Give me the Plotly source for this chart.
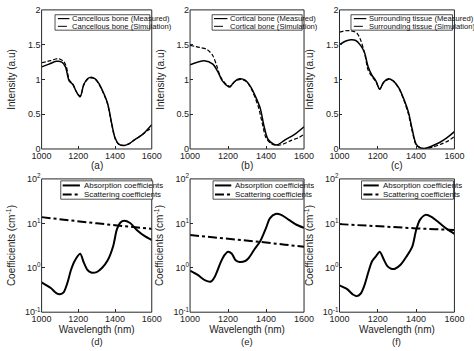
import plotly.graph_objects as go

W, H = 474, 351

# ---------------- data ----------------
a_meas_x = [1000, 1040, 1080, 1110, 1130, 1150, 1170, 1190, 1210, 1230, 1250, 1270, 1290, 1310, 1340, 1360, 1380, 1400, 1420, 1450, 1480, 1500, 1550, 1600]
a_meas_y = [1.18, 1.22, 1.26, 1.25, 1.18, 0.98, 0.93, 0.82, 0.75, 0.93, 1.01, 1.03, 1.01, 0.95, 0.79, 0.65, 0.39, 0.16, 0.07, 0.05, 0.08, 0.12, 0.21, 0.35]
a_sim_x = [1000, 1050, 1090, 1120, 1135, 1150, 1170, 1190, 1210, 1230, 1250, 1270, 1290, 1310, 1340, 1360, 1380, 1400, 1420, 1450, 1480, 1500, 1550, 1580, 1600]
a_sim_y = [1.24, 1.27, 1.30, 1.26, 1.18, 1.0, 0.93, 0.82, 0.76, 0.92, 1.0, 1.02, 1.01, 0.94, 0.78, 0.64, 0.38, 0.15, 0.07, 0.05, 0.08, 0.12, 0.21, 0.27, 0.30]

b_meas_x = [1000, 1075, 1120, 1150, 1170, 1200, 1210, 1230, 1260, 1290, 1320, 1350, 1370, 1390, 1410, 1440, 1460, 1500, 1550, 1600]
b_meas_y = [1.21, 1.27, 1.22, 1.09, 0.98, 0.90, 0.89, 0.96, 1.01, 0.99, 0.89, 0.72, 0.58, 0.32, 0.14, 0.07, 0.06, 0.13, 0.21, 0.32]
b_sim_x = [1000, 1050, 1090, 1120, 1140, 1160, 1190, 1210, 1240, 1270, 1300, 1330, 1360, 1380, 1400, 1430, 1460, 1490, 1530, 1570, 1600]
b_sim_y = [1.49, 1.46, 1.43, 1.34, 1.20, 1.04, 0.93, 0.90, 0.98, 1.00, 0.96, 0.82, 0.60, 0.37, 0.16, 0.07, 0.05, 0.07, 0.12, 0.16, 0.21]

c_meas_x = [1000, 1030, 1060, 1085, 1110, 1130, 1150, 1170, 1190, 1210, 1230, 1255, 1280, 1310, 1340, 1360, 1380, 1400, 1420, 1450, 1480, 1520, 1560, 1600]
c_meas_y = [1.50, 1.55, 1.57, 1.56, 1.49, 1.39, 1.18, 1.06, 0.98, 0.86, 0.96, 1.01, 0.98, 0.88, 0.69, 0.53, 0.28, 0.07, 0.02, 0.01, 0.04, 0.09, 0.16, 0.25]
c_sim_x = [1000, 1030, 1060, 1090, 1110, 1130, 1150, 1170, 1190, 1210, 1230, 1255, 1280, 1310, 1340, 1360, 1380, 1400, 1430, 1460, 1490, 1530, 1570, 1600]
c_sim_y = [1.68, 1.70, 1.70, 1.67, 1.57, 1.39, 1.13, 1.04, 0.97, 0.86, 0.95, 1.00, 0.98, 0.87, 0.67, 0.50, 0.25, 0.06, 0.01, 0.01, 0.03, 0.07, 0.12, 0.18]

d_abs_x = [1000, 1050, 1080, 1100, 1120, 1140, 1160, 1180, 1210, 1230, 1250, 1270, 1300, 1330, 1360, 1390, 1410, 1430, 1450, 1480, 1520, 1560, 1600]
d_abs_y = [0.47, 0.35, 0.27, 0.255, 0.28, 0.45, 0.89, 1.42, 2.06, 1.3, 0.89, 0.78, 0.80, 1.0, 1.47, 3.1, 7.3, 10.5, 11.4, 10.3, 7.0, 5.2, 4.2]
d_sca_x = [1000, 1100, 1200, 1300, 1400, 1500, 1600]
d_sca_y = [13.8, 12.3, 11.1, 10.0, 9.1, 8.3, 7.5]

e_abs_x = [1000, 1040, 1080, 1110, 1130, 1160, 1180, 1200, 1220, 1240, 1260, 1290, 1310, 1340, 1370, 1400, 1420, 1450, 1480, 1520, 1560, 1600]
e_abs_y = [0.86, 0.69, 0.52, 0.49, 0.63, 1.29, 1.9, 2.3, 2.06, 1.47, 1.35, 1.42, 1.68, 2.65, 4.0, 7.9, 13.0, 16.3, 15.5, 12.0, 9.3, 7.9]
e_sca_x = [1000, 1100, 1200, 1300, 1400, 1500, 1600]
e_sca_y = [5.46, 5.0, 4.55, 4.1, 3.7, 3.3, 2.98]

f_abs_x = [1000, 1040, 1070, 1090, 1110, 1130, 1150, 1170, 1190, 1210, 1230, 1250, 1270, 1290, 1320, 1350, 1380, 1400, 1420, 1450, 1480, 1520, 1560, 1600]
f_abs_y = [0.40, 0.33, 0.25, 0.23, 0.26, 0.40, 0.78, 1.4, 1.8, 2.3, 1.57, 1.09, 0.95, 0.95, 1.18, 1.8, 3.0, 7.0, 12.0, 15.5, 14.0, 10.3, 7.5, 5.8]
f_sca_x = [1000, 1100, 1200, 1300, 1400, 1500, 1600]
f_sca_y = [9.6, 9.0, 8.5, 8.1, 7.7, 7.4, 7.1]

top_names = ["Cancellous bone", "Cortical bone", "Surrounding tissue"]
captions = ["(a)", "(b)", "(c)", "(d)", "(e)", "(f)"]
x_ticks = [1000, 1200, 1400, 1600]
top_yticks = [0, 0.5, 1, 1.5, 2]
log_tickvals = [0.1, 1, 10, 100]
log_ticktext = ["10<sup>-1</sup>", "10<sup>0</sup>", "10<sup>1</sup>", "10<sup>2</sup>"]

# ---------------- layout geometry (pixels) ----------------
cols_px = [(33, 148), (188, 307), (344, 464)]
top_px = (3, 147)
bot_px = (178, 316)

def px(x):
    return x / W

def py(y):
    return 1 - y / H

FONT = "Arial, Liberation Sans, sans-serif"
AX = "#262626"

fig = go.Figure()

top_data = [(a_meas_x, a_meas_y, a_sim_x, a_sim_y),
            (b_meas_x, b_meas_y, b_sim_x, b_sim_y),
            (c_meas_x, c_meas_y, c_sim_x, c_sim_y)]
bot_data = [(d_abs_x, d_abs_y, d_sca_x, d_sca_y),
            (e_abs_x, e_abs_y, e_sca_x, e_sca_y),
            (f_abs_x, f_abs_y, f_sca_x, f_sca_y)]

axis_common = dict(showgrid=False, zeroline=False, showline=False,
                   ticks="inside", ticklen=3, tickcolor=AX,
                   tickfont=dict(size=9, color="#222", family=FONT))

shapes = []
annotations = []

layout = {}
for i in range(3):
    n = i + 1
    sfx = "" if n == 1 else str(n)
    layout["xaxis" + sfx] = dict(axis_common, domain=[px(cols_px[i][0]), px(cols_px[i][1])], range=[1000, 1600],
                                 tickvals=x_ticks, anchor="y" + sfx)
    layout["yaxis" + sfx] = dict(axis_common, domain=[py(top_px[1]), py(top_px[0])], range=[0, 2],
                                 tickvals=top_yticks, anchor="x" + sfx,
                                 title=dict(text="Intensity (a.u)", font=dict(size=10, family=FONT, color="#222"), standoff=10))
    mx, my, sx, sy = top_data[i]
    fig.add_trace(go.Scatter(x=mx, y=my, mode="lines", line=dict(color="black", width=1.5, shape="spline", smoothing=0.8),
                             xaxis="x" + sfx, yaxis="y" + sfx, showlegend=False))
    fig.add_trace(go.Scatter(x=sx, y=sy, mode="lines", line=dict(color="black", width=1.2, dash="4px,2px", shape="spline", smoothing=0.8),
                             xaxis="x" + sfx, yaxis="y" + sfx, showlegend=False))
    shapes.append(dict(type="rect", xref="x" + sfx + " domain", yref="y" + sfx + " domain", x0=0, x1=1, y0=0, y1=1,
                       line=dict(color=AX, width=1), fillcolor="rgba(0,0,0,0)", layer="above"))

for i in range(3):
    n = i + 4
    sfx = str(n)
    layout["xaxis" + sfx] = dict(axis_common, domain=[px(cols_px[i][0]), px(cols_px[i][1])], range=[1000, 1600],
                                 tickvals=x_ticks, anchor="y" + sfx,
                                 title=dict(text="Wavelength (nm)", font=dict(size=10, family=FONT, color="#222"), standoff=0))
    layout["yaxis" + sfx] = dict(axis_common, domain=[py(bot_px[1]), py(bot_px[0])], type="log", range=[-1, 2],
                                 tickvals=log_tickvals, ticktext=log_ticktext, anchor="x" + sfx,
                                 title=dict(text="Coefficients (cm<sup>-1</sup>)", font=dict(size=10, family=FONT, color="#222"), standoff=7))
    ax_, ay_, sx, sy = bot_data[i]
    fig.add_trace(go.Scatter(x=ax_, y=ay_, mode="lines", line=dict(color="black", width=2, shape="spline", smoothing=0.8),
                             xaxis="x" + sfx, yaxis="y" + sfx, showlegend=False))
    fig.add_trace(go.Scatter(x=sx, y=sy, mode="lines", line=dict(color="black", width=2, dash="dashdot"),
                             xaxis="x" + sfx, yaxis="y" + sfx, showlegend=False))
    shapes.append(dict(type="rect", xref="x" + sfx + " domain", yref="y" + sfx + " domain", x0=0, x1=1, y0=0, y1=1,
                       line=dict(color=AX, width=1), fillcolor="rgba(0,0,0,0)", layer="above"))


def legend_box(x0, x1, y0, y1, line_x0, line_x1, text_x, rows, fsize):
    shapes.append(dict(type="rect", xref="paper", yref="paper", x0=px(x0), x1=px(x1), y0=py(y1), y1=py(y0),
                       line=dict(color=AX, width=0.8), fillcolor="white", layer="above"))
    n = len(rows)
    for k, (label, dash, lw) in enumerate(rows):
        yc = y0 + (y1 - y0) * (k + 0.5) / n
        shapes.append(dict(type="line", xref="paper", yref="paper", x0=px(line_x0), x1=px(line_x1), y0=py(yc), y1=py(yc),
                           line=dict(color="black", width=lw, dash=dash), layer="above"))
        annotations.append(dict(text=label, xref="paper", yref="paper", x=px(text_x), y=py(yc), xanchor="left", yanchor="middle",
                                showarrow=False, font=dict(size=fsize, family=FONT, color="#111")))

top_leg = [(47, 146, 50, 62, 63), (211, 305, 213, 227, 228), (356, 462, 359, 372, 373)]
for i, (x0, x1, l0, l1, tx) in enumerate(top_leg):
    legend_box(x0, x1, 8, 24, l0, l1, tx,
               [(f"{top_names[i]} (Measured)", "solid", 1.2), (f"{top_names[i]} (Simulation)", "dash", 1.0)], 7.6)

bot_leg = [(53, 149, 55, 73, 75), (212, 306, 214, 231, 233), (367, 463, 369, 385, 387)]
for (x0, x1, l0, l1, tx) in bot_leg:
    legend_box(x0, x1, 180, 199, l0, l1, tx,
               [("Absorption coefficients", "solid", 2), ("Scattering coefficients", "dashdot", 2)], 7.9)

for i in range(3):
    cx = (cols_px[i][0] + cols_px[i][1]) / 2
    annotations.append(dict(text=captions[i], xref="paper", yref="paper", x=px(cx), y=py(164), xanchor="center", yanchor="middle",
                            showarrow=False, font=dict(size=10, family=FONT, color="#222")))
    annotations.append(dict(text=captions[i + 3], xref="paper", yref="paper", x=px(cx), y=py(346), xanchor="center", yanchor="middle",
                            showarrow=False, font=dict(size=9.5, family=FONT, color="#222")))

fig.update_layout(width=W, height=H, margin=dict(l=0, r=0, t=0, b=0), paper_bgcolor="white", plot_bgcolor="white",
                  font=dict(family=FONT), showlegend=False, shapes=shapes, annotations=annotations, **layout)

fig.write_html("out.html")
